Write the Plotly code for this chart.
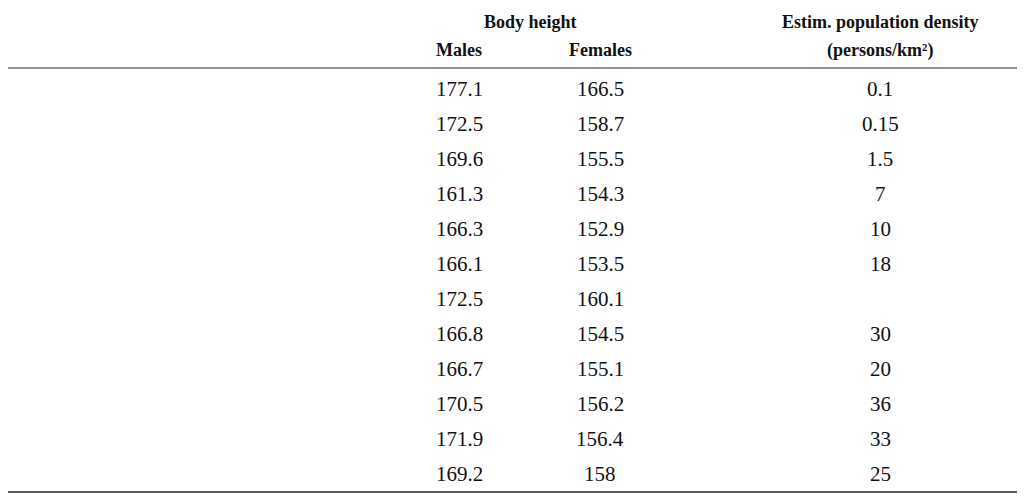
import plotly.graph_objects as go

periods = ["Palaeolithic (earlier than 9000 BC)", "Mesolithic (9000-7000 BC)", "Early Neolithic (7000-5000 BC)",
           "Late Neolithic (5000-3000 BC)", "Early Bronze (3000-2000 BC)", "Middle People (2000-1500 BC)",
           "Bronze Kings (1450 BC)", "Late Bronze (1450-1150 BC)", "Early Iron (1150-650 BC)",
           "Classic (650-300 BC)", "Hellenistic (300 BC-120 AD)", "Imperial Roman"]
males = ["177.1", "172.5", "169.6", "161.3", "166.3", "166.1", "172.5", "166.8", "166.7", "170.5", "171.9", "169.2"]
females = ["166.5", "158.7", "155.5", "154.3", "152.9", "153.5", "160.1", "154.5", "155.1", "156.2", "156.4", "158"]
density = ["0.1", "0.15", "1.5", "7", "10", "18", "", "30", "20", "36", "33", "25"]

FONT = "Liberation Serif"
fig = go.Figure()
ann = []
def t(x, y, s, anchor="center", bold=False, size=21):
    ann.append(dict(x=x, y=y, text=(f"<b>{s}</b>" if bold else s), xanchor=anchor, yanchor="middle",
                    showarrow=False, font=dict(family=FONT, size=size, color="#111")))

t(5, 22, "Period", "left", True, 18)
t(530, 22, "Body height", bold=True, size=18)
t(459, 50, "Males", bold=True, size=18)
t(600, 50, "Females", bold=True, size=18)
t(880, 22, "Estim. population density", bold=True, size=18)
t(880, 50, "(persons/km²)", bold=True, size=18)
for i, (p, m, f, d) in enumerate(zip(periods, males, females, density)):
    y = 89 + i * 35
    t(5, y, p, "left")
    t(459, y, m)
    t(600, y, f)
    if d:
        t(880, y, d)

shapes = [dict(type="line", x0=-10, x1=1040, y0=y, y1=y, line=dict(color="#222", width=w))
          for y, w in [(3, 2), (68, 1), (492, 1.5)]]
fig.update_layout(width=1025, height=500, margin=dict(l=0, r=0, t=0, b=0),
                  plot_bgcolor="white", paper_bgcolor="white", annotations=ann, shapes=shapes,
                  xaxis=dict(range=[8, 1033], visible=False),
                  yaxis=dict(range=[508, 8], visible=False), showlegend=False)
fig.write_html("out.html")
